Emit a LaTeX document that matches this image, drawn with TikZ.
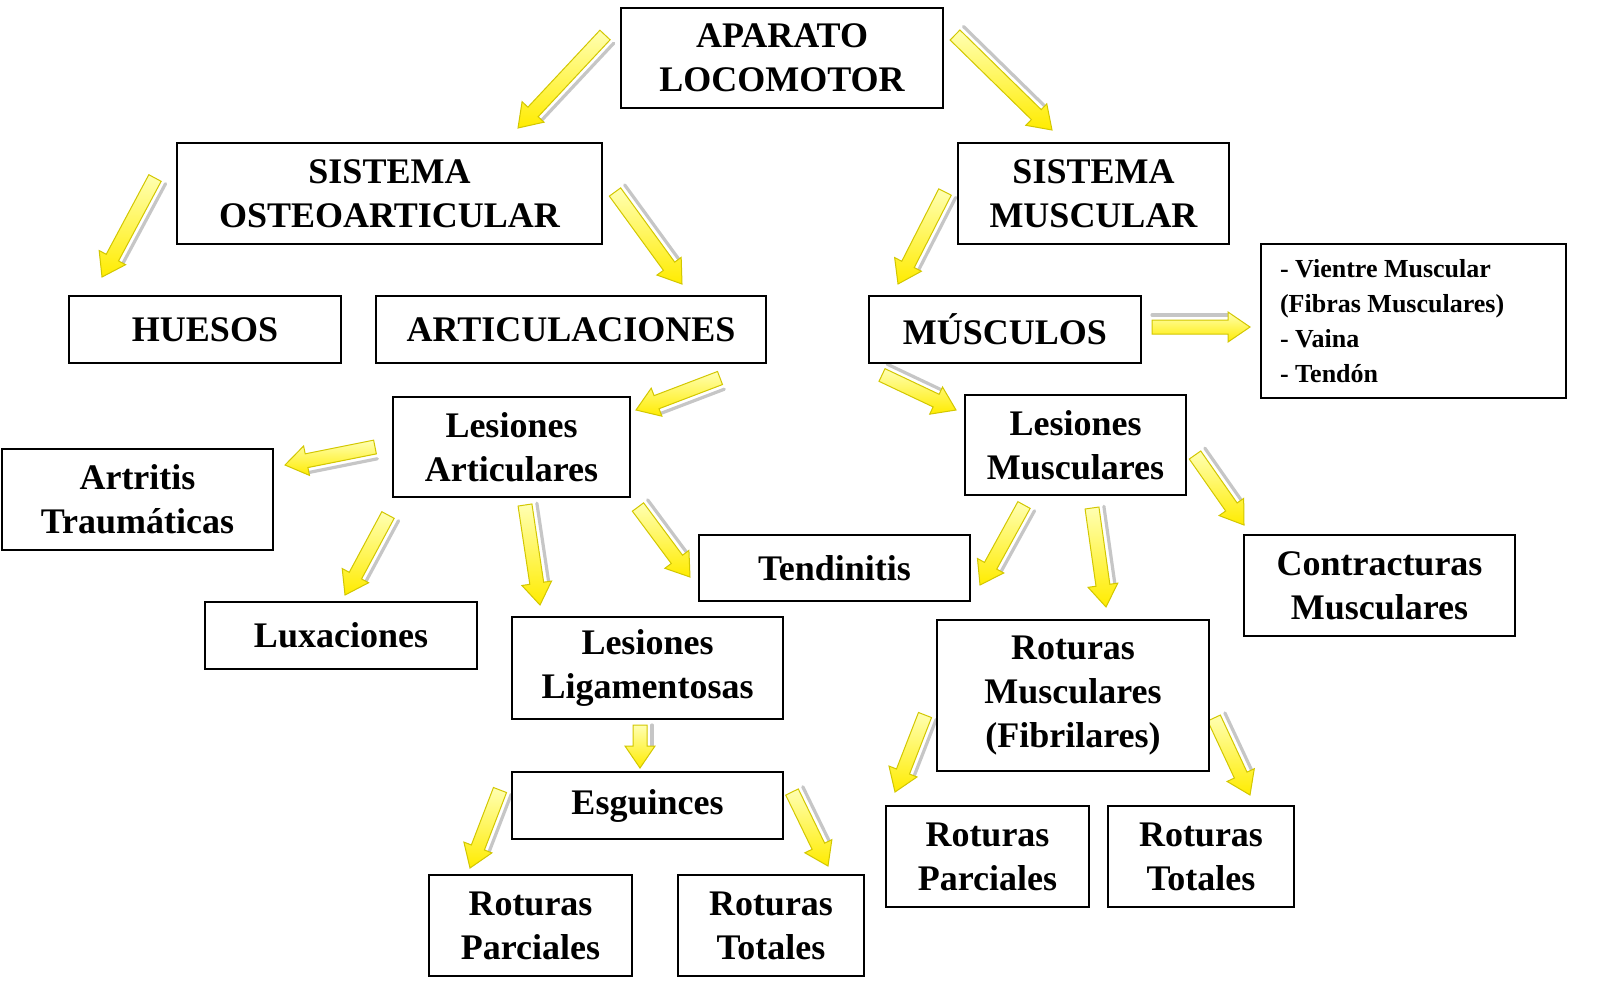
\documentclass[tikz,border=0pt]{standalone}
\usepackage{fontspec}
\setmainfont{Liberation Serif}
\usetikzlibrary{calc}
\tikzset{
 box/.style={draw=black, line width=0.8pt, fill=white, align=center, inner sep=0pt,
   font=\fontsize{18}{22}\selectfont\bfseries},
 small/.style={font=\fontsize{13}{17.5}\selectfont\bfseries, align=left}
}
\newcommand\bx[6]{% name x1 y1 x2 y2 text
 \node[box, minimum width={(#4-#2)*0.5pt}, minimum height={(#5-#3)*0.5pt}] (#1) at ({(#2+#4)/2},{(#3+#5)/2}) {#6};}
\newcommand\barr[4]{% x1 y1 x2 y2
 \begin{scope}
 \coordinate (A) at (#1,#2); \coordinate (B) at (#3,#4);
 \coordinate (C) at ($(B)!11pt!(A)$);
 \draw[gray!45, line width=1.6pt, line cap=round] ($(A)!6pt!90:(B)$) -- ($(C)!6pt!90:(B)$);
 \shade[top color=yellow!30!white, bottom color=yellow!85!orange, draw=yellow!60!olive, line width=0.5pt]
  ($(A)!3.5pt!90:(B)$) -- ($(C)!3.5pt!90:(B)$) -- ($(C)!7.5pt!90:(B)$) -- (B)
  -- ($(C)!7.5pt!-90:(B)$) -- ($(C)!3.5pt!-90:(B)$) -- ($(A)!3.5pt!-90:(B)$) -- cycle;
 \end{scope}}
\begin{document}
\begin{tikzpicture}[x=0.5pt,y=-0.5pt]
\fill[white] (0,0) rectangle (1600,998);
\barr{605}{35}{518}{128}
\barr{955}{35}{1052}{130}
\barr{155}{178}{102}{277}
\barr{615}{192}{682}{284}
\barr{945}{192}{898}{284}
\barr{1152}{327}{1250}{327}
\barr{720}{378}{636}{410}
\barr{882}{375}{956}{410}
\barr{375}{447}{285}{465}
\barr{388}{515}{345}{595}
\barr{525}{505}{540}{605}
\barr{638}{507}{690}{577}
\barr{1024}{505}{980}{585}
\barr{1092}{508}{1106}{607}
\barr{1195}{455}{1244}{525}
\barr{640}{725}{640}{768}
\barr{500}{790}{470}{868}
\barr{792}{792}{828}{866}
\barr{925}{715}{895}{792}
\barr{1214}{718}{1250}{795}
\bx{apa}{621}{8}{943}{108}{APARATO\\LOCOMOTOR}
\bx{sos}{177}{143}{602}{244}{SISTEMA\\OSTEOARTICULAR}
\bx{smu}{958}{143}{1229}{244}{SISTEMA\\MUSCULAR}
\bx{hue}{69}{296}{341}{363}{HUESOS}
\bx{art}{376}{296}{766}{363}{ARTICULACIONES}
\bx{mus}{869}{296}{1141}{363}{MÚSCULOS}
\node[draw, line width=0.8pt, minimum width=152.5pt, minimum height=77pt, inner sep=0pt] (lst) at (1413.5,321) {};
\node[small, anchor=west] (lsttxt) at (1273,321) {- Vientre Muscular\\(Fibras Musculares)\\- Vaina\\- Tendón};
\bx{lar}{393}{397}{630}{497}{Lesiones\\Articulares}
\bx{atr}{2}{449}{273}{550}{Artritis\\Traumáticas}
\bx{lmu}{965}{395}{1186}{495}{Lesiones\\Musculares}
\bx{lux}{205}{602}{477}{669}{Luxaciones}
\bx{ten}{699}{535}{970}{601}{Tendinitis}
\bx{lli}{512}{617}{783}{719}{Lesiones\\Ligamentosas}
\bx{con}{1244}{535}{1515}{636}{Contracturas\\Musculares}
\bx{rmf}{937}{620}{1209}{771}{Roturas\\Musculares\\(Fibrilares)}
\bx{esg}{512}{772}{783}{839}{Esguinces}
\bx{rp1}{429}{875}{632}{976}{Roturas\\Parciales}
\bx{rt1}{678}{875}{864}{976}{Roturas\\Totales}
\bx{rp2}{886}{806}{1089}{907}{Roturas\\Parciales}
\bx{rt2}{1108}{806}{1294}{907}{Roturas\\Totales}
\pgfresetboundingbox
\useasboundingbox (0,0) rectangle (1600,998);
\end{tikzpicture}
\end{document}
